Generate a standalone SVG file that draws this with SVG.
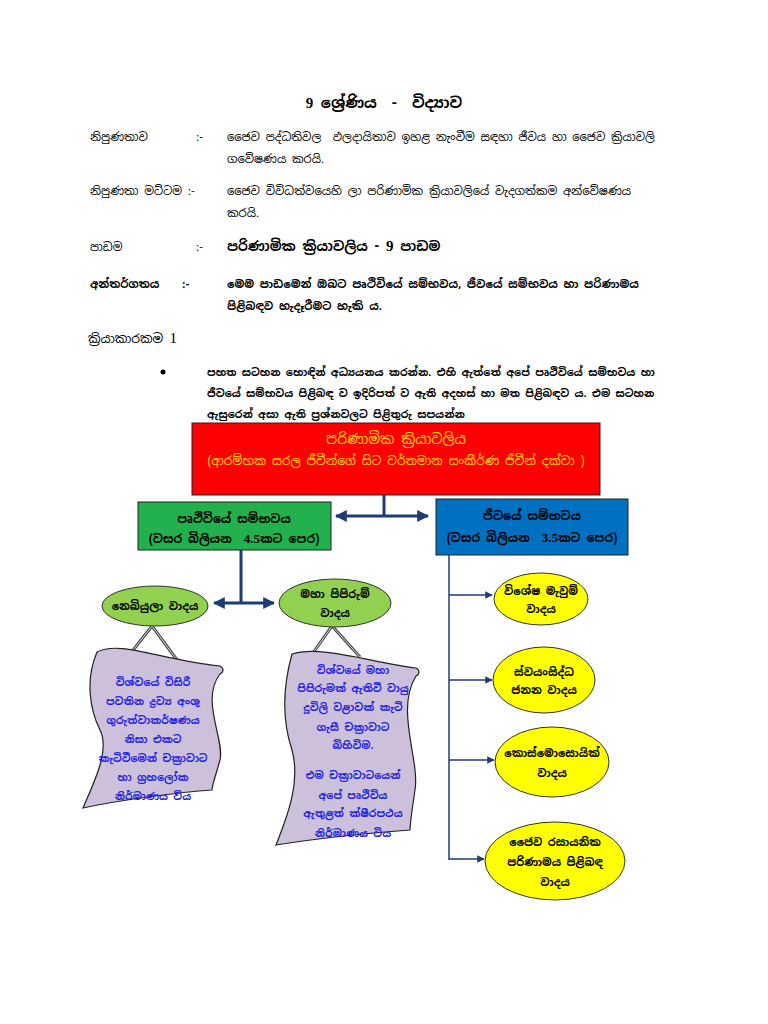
<svg xmlns="http://www.w3.org/2000/svg" width="768" height="1024" viewBox="0 0 768 1024">
<defs>
<marker id="ah" viewBox="0 0 10 10" refX="9" refY="5" markerWidth="4" markerHeight="4" orient="auto-start-reverse" markerUnits="strokeWidth">
<path d="M0,0 L10,5 L0,10 Z" fill="#1F3B73"/>
</marker>
<marker id="ah2" viewBox="0 0 10 10" refX="9" refY="5" markerWidth="5" markerHeight="5" orient="auto" markerUnits="strokeWidth">
<path d="M0,0 L10,5 L0,10 Z" fill="#1F3B73"/>
</marker>
</defs>
<style>
text{font-family:"Noto Sans Sinhala","Noto Serif Sinhala","Iskoola Pota","Noto Sans","DejaVu Sans",sans-serif;fill:#000}
.t{font-size:11.5px}
.b{font-size:11.2px;font-weight:bold}
.c{text-anchor:middle}
.bx{font-size:12px;font-weight:bold}
.conn{stroke:#1F3B73;stroke-width:3;fill:none}
.conn2{stroke:#1F3B73;stroke-width:1.5;fill:none}
.scroll{fill:#CCC0DA;stroke:#222;stroke-width:1.2}
.st{font-size:10.5px;font-weight:bold;fill:#1F1FE8;text-anchor:middle}
.yel{fill:#FFFF00;stroke:#333;stroke-width:1}
.grn{fill:#92D050;stroke:#333;stroke-width:1}
.hang{stroke:#444;stroke-width:3;fill:none}
.hang2{stroke:#ddd;stroke-width:1;fill:none}
.num{font-family:"Liberation Serif",serif}
</style>
<rect width="768" height="1024" fill="#fff"/>

<g id="header">
<text x="384" y="108" class="c" style="font-size:15px;font-weight:bold" xml:space="preserve"><tspan class="num">9</tspan> ශ්‍රේණිය  -  විද්‍යාව</text>
<text x="90" y="141" class="t">නිපුණතාව</text>
<text x="196" y="141" class="t">:-</text>
<text x="227" y="141" class="t" xml:space="preserve">ජෛව පද්ධතිවල  ඵලදායිතාව ඉහළ නැංවීම සඳහා ජීවය හා ජෛව ක්‍රියාවලි</text>
<text x="227" y="163" class="t">ගවේෂණය කරයි.</text>
<text x="90" y="195" class="t">නිපුණතා මට්ටම :-</text>
<text x="227" y="195" class="t">ජෛව විවිධත්වයෙහි ලා පරිණාමික ක්‍රියාවලියේ වැදගත්කම අන්වේෂණය</text>
<text x="227" y="217" class="t">කරයි.</text>
<text x="90" y="251" class="t">පාඩම</text>
<text x="196" y="251" class="t">:-</text>
<text x="227" y="251" style="font-size:13.5px;font-weight:bold">පරිණාමික ක්‍රියාවලිය - <tspan class="num" style="font-size:15px">9</tspan> පාඩම</text>
<text x="90" y="288" class="b">අන්තර්ගතය</text>
<text x="182" y="288" class="b">:-</text>
<text x="227" y="288" class="b">මෙම පාඩමෙන් ඔබට පෘථිවියේ සම්භවය, ජීවයේ සම්භවය හා පරිණාමය</text>
<text x="227" y="310" class="b">පිළිබඳව හැදෑරීමට හැකි ය.</text>
<text x="88" y="343" class="t" style="font-size:12.5px">ක්‍රියාකාරකම <tspan class="num" style="font-size:15px">1</tspan></text>
<circle cx="163" cy="372" r="2.5" fill="#000"/>
<text x="207" y="376" class="b" style="font-size:10.6px">පහත සටහන හොඳින් අධ්‍යයනය කරන්න. එහි ඇත්තේ අපේ පෘථිවියේ සම්භවය හා</text>
<text x="207" y="397" class="b" style="font-size:10.6px">ජීවයේ සම්භවය පිළිබඳ ව ඉදිරිපත් ව ඇති අදහස් හා මත පිළිබඳව ය. එම සටහන</text>
<text x="207" y="418" class="b" style="font-size:10.6px">ඇසුරෙන් අසා ඇති ප්‍රශ්නවලට පිළිතුරු සපයන්න</text>
</g>

<g id="connectors">
<path class="conn" d="M384,495 V516"/>
<path class="conn" d="M336,516 H428" marker-start="url(#ah)" marker-end="url(#ah)"/>
<path class="conn" d="M241,550 V603"/>
<path class="conn" d="M214,603 H274" marker-start="url(#ah)" marker-end="url(#ah)"/>
<path class="conn2" d="M449,555 V860"/>
<path class="conn2" d="M449,595 H492" marker-end="url(#ah2)"/>
<path class="conn2" d="M449,680 H492" marker-end="url(#ah2)"/>
<path class="conn2" d="M449,760 H494" marker-end="url(#ah2)"/>
<path class="conn2" d="M449,859 H484" marker-end="url(#ah2)"/>
<path class="hang" d="M130,654 L152,626 L177,660"/>
<path class="hang2" d="M130,654 L152,626 L177,660"/>
<path class="hang" d="M313,653 L332,626 L360,657"/>
<path class="hang2" d="M313,653 L332,626 L360,657"/>
</g>

<g id="red">
<rect x="192" y="423" width="408" height="72" fill="#FF0000" stroke="#222" stroke-width="1"/>
<text x="396" y="444" class="c" style="font-size:14px;fill:#FFD700">පරිණාමික ක්‍රියාවලිය</text>
<text x="396" y="465" class="c" style="font-size:12px;fill:#FFD700">(ආරම්භක සරල ජීවීන්ගේ සිට වර්තමාන සංකීර්ණ ජීවීන් දක්වා )</text>
</g>

<g id="green">
<rect x="138" y="502" width="193" height="48" fill="#22B14C" stroke="#222" stroke-width="1"/>
<text x="234" y="523" class="c bx">පෘථිවියේ සම්භවය</text>
<text x="234" y="543" class="c bx" xml:space="preserve">(වසර බිලියන  <tspan class="num" style="font-size:13px">4.5</tspan>කට පෙර)</text>
</g>

<g id="blue">
<rect x="436" y="499" width="192" height="56" fill="#0070C0" stroke="#222" stroke-width="1"/>
<text x="532" y="520" class="c bx">ජීවයේ සම්භවය</text>
<text x="532" y="542" class="c bx" xml:space="preserve">(වසර බිලියන  <tspan class="num" style="font-size:13px">3.5</tspan>කට පෙර)</text>
</g>

<g id="nebula">
<ellipse cx="155" cy="606" rx="53" ry="20" class="grn"/>
<text x="155" y="610" class="c b" style="font-size:11px">නෙබියුලා වාදය</text>
</g>

<g id="bigbang">
<ellipse cx="335" cy="603" rx="56" ry="24" class="grn"/>
<text x="335" y="598" class="c b" style="font-size:11px">මහා පිපිරුම්</text>
<text x="335" y="617" class="c b" style="font-size:11px">වාදය</text>
</g>

<g id="scroll1">
<path class="scroll" d="M97,652 C120,640 160,660 220,666 C224,668 224,672 220,674 C200,700 225,740 220,760 C216,775 212,785 212,790 C180,792 120,800 83,808 C95,780 110,750 100,730 C90,710 85,680 97,652 Z"/>
<text x="153" y="686" class="st">විශ්වයේ විසිරී</text>
<text x="153" y="705" class="st">පවතින ද්‍රව්‍ය අංශු</text>
<text x="153" y="724" class="st">ගුරුත්වාකර්ෂණය</text>
<text x="153" y="743" class="st">නිසා එකට</text>
<text x="153" y="762" class="st">කැටිවීමෙන් චක්‍රාවාට</text>
<text x="153" y="781" class="st">හා ග්‍රහලෝක</text>
<text x="153" y="800" class="st">නිර්මාණය විය</text>
</g>

<g id="scroll2">
<path class="scroll" d="M292,654 C320,645 370,662 416,668 C420,670 420,674 416,676 C395,710 420,760 415,790 C412,810 410,825 410,830 C370,833 320,838 276,845 C290,810 300,780 292,750 C282,720 282,690 292,654 Z"/>
<text x="353" y="674" class="st">විශ්වයේ මහා</text>
<text x="353" y="692" class="st">පිපිරුමක් ඇතිවී වායු</text>
<text x="353" y="711" class="st">දූවිලි වළාවක් කැටි</text>
<text x="353" y="731" class="st">ගැසී චක්‍රාවාට</text>
<text x="353" y="749" class="st">බිහිවිම.</text>
<text x="353" y="779" class="st">එම චක්‍රාවාටයෙන්</text>
<text x="353" y="799" class="st">අපේ පෘථිවිය</text>
<text x="353" y="817" class="st">ඇතුළත් ක්ෂීරපථය</text>
<text x="353" y="837" class="st">නිර්මාණය විය</text>
</g>

<g id="special">
<ellipse cx="541" cy="599" rx="47" ry="26" class="yel"/>
<text x="541" y="595" class="c b" style="font-size:11px">විශේෂ මැවුම්</text>
<text x="541" y="613" class="c b" style="font-size:11px">වාදය</text>
</g>
<g id="spontaneous">
<ellipse cx="544" cy="680" rx="51" ry="33" class="yel"/>
<text x="544" y="676" class="c b" style="font-size:11px">ස්වයංසිද්ධ</text>
<text x="544" y="694" class="c b" style="font-size:11px">ජනන වාදය</text>
</g>
<g id="cosmozoic">
<ellipse cx="552" cy="762" rx="57" ry="35" class="yel"/>
<text x="552" y="757" class="c b" style="font-size:11px">කොස්මොසොයික්</text>
<text x="552" y="777" class="c b" style="font-size:11px">වාදය</text>
</g>
<g id="biochem">
<ellipse cx="555" cy="861" rx="70" ry="39" class="yel"/>
<text x="555" y="846" class="c b" style="font-size:11px">ජෛව රසායනික</text>
<text x="555" y="866" class="c b" style="font-size:11px">පරිණාමය පිළිබඳ</text>
<text x="555" y="886" class="c b" style="font-size:11px">වාදය</text>
</g>
</svg>
